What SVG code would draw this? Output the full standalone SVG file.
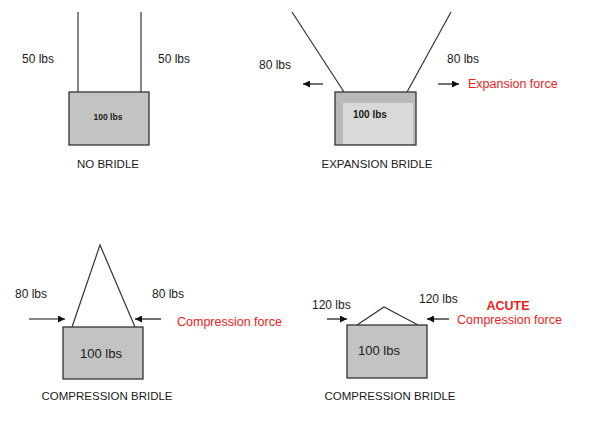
<svg xmlns="http://www.w3.org/2000/svg" width="590" height="431" viewBox="0 0 590 431">
<style>
text{font-family:"Liberation Sans",Arial,sans-serif;fill:#1a1a1a;font-size:12px}
.red{fill:#ee1c1c;font-size:12.5px}
.b{font-weight:bold}
.cap{font-size:11.5px}
.rope{stroke:#333;stroke-width:1.2;fill:none}
.box{fill:#c3c3c3;stroke:#333;stroke-width:1.3}
.arr{stroke:#111;stroke-width:1.2;marker-end:url(#ah)}
</style>
<defs>
<marker id="ah" viewBox="0 0 10 10" refX="10" refY="5" markerWidth="7" markerHeight="7" markerUnits="userSpaceOnUse" orient="auto">
<path d="M0,0 L10,5 L0,10 z" fill="#111"/>
</marker>
</defs>
<rect width="590" height="431" fill="#fff"/>
<g id="connectors">
<line class="rope" x1="78" y1="12" x2="78" y2="92"/>
<line class="rope" x1="141" y1="12" x2="141" y2="92"/>
<line class="rope" x1="292" y1="12" x2="344" y2="92"/>
<line class="rope" x1="451" y1="12" x2="407" y2="92"/>
<line class="arr" x1="323" y1="84" x2="303" y2="84"/>
<line class="arr" x1="438" y1="84" x2="459" y2="84"/>
<polyline class="rope" points="72,327 100,245 135,327"/>
<line class="arr" x1="29" y1="319" x2="65" y2="319"/>
<line class="arr" x1="161" y1="319" x2="135" y2="319"/>
<polyline class="rope" points="357,325 384,307 418,325"/>
<line class="arr" x1="327" y1="319" x2="347" y2="319"/>
<line class="arr" x1="449" y1="319" x2="427" y2="319"/>
</g>
<g id="no-bridle">
<rect class="box" x="69" y="92" width="80" height="53"/>
<text x="22" y="63">50 lbs</text>
<text x="158" y="63">50 lbs</text>
<text x="108" y="120" text-anchor="middle" class="b" style="font-size:8.5px">100 lbs</text>
<text x="108" y="168" text-anchor="middle" class="cap">NO BRIDLE</text>
</g>
<g id="expansion-bridle">
<rect x="335" y="92" width="81" height="53" fill="#b9b9b9" stroke="#333" stroke-width="1.3"/>
<rect x="343" y="103" width="70" height="41" fill="#d9d9d9"/>
<text x="353" y="118" class="b" style="font-size:10px">100 lbs</text>
<text x="259" y="69">80 lbs</text>
<text x="447" y="63">80 lbs</text>
<text x="468" y="88" class="red">Expansion force</text>
<text x="377" y="168" text-anchor="middle" class="cap">EXPANSION BRIDLE</text>
</g>
<g id="compression-bridle">
<rect class="box" x="63" y="327" width="80" height="52"/>
<text x="101" y="358" text-anchor="middle" style="font-size:13px">100 lbs</text>
<text x="15" y="298">80 lbs</text>
<text x="152" y="298">80 lbs</text>
<text x="177" y="326" class="red">Compression force</text>
<text x="107" y="400" text-anchor="middle" class="cap">COMPRESSION BRIDLE</text>
</g>
<g id="acute-compression-bridle">
<rect class="box" x="347" y="325" width="80" height="53"/>
<text x="358" y="355" style="font-size:13px">100 lbs</text>
<text x="312" y="309">120 lbs</text>
<text x="419" y="303">120 lbs</text>
<text x="508" y="310" text-anchor="middle" class="red b">ACUTE</text>
<text x="457" y="324" class="red">Compression force</text>
<text x="390" y="400" text-anchor="middle" class="cap">COMPRESSION BRIDLE</text>
</g>
</svg>
